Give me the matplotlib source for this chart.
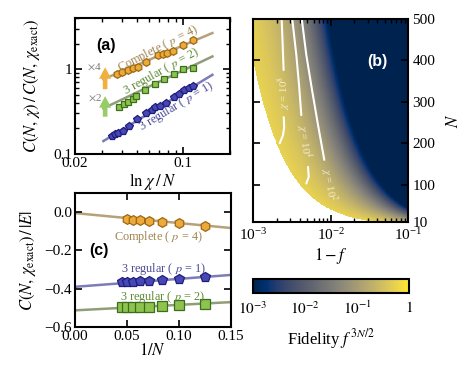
import numpy as np
import matplotlib
matplotlib.use("Agg")
import matplotlib.pyplot as plt
from matplotlib.colors import LogNorm
from matplotlib.ticker import FixedLocator, LogLocator, NullFormatter, FixedFormatter

plt.rcParams['font.family'] = ['Liberation Serif', 'DejaVu Serif']
plt.rcParams['mathtext.fontset'] = 'stix'
plt.rcParams['xtick.direction'] = 'in'
plt.rcParams['ytick.direction'] = 'in'
plt.rcParams['xtick.top'] = True
plt.rcParams['ytick.right'] = True
plt.rcParams['axes.linewidth'] = 1.5
plt.rcParams['xtick.major.width'] = 1.2
plt.rcParams['ytick.major.width'] = 1.2
plt.rcParams['xtick.minor.width'] = 1.0
plt.rcParams['ytick.minor.width'] = 1.0
plt.rcParams['xtick.major.size'] = 5
plt.rcParams['ytick.major.size'] = 5
plt.rcParams['xtick.minor.size'] = 3
plt.rcParams['ytick.minor.size'] = 3

# ---------------- data: panel (a) ----------------
complete_x = [0.0375, 0.0405, 0.0440, 0.0475, 0.0510, 0.0575, 0.0690, 0.0740, 0.0790, 0.0860, 0.1000, 0.1160]
complete_y = [0.88, 0.92, 0.98, 1.02, 1.07, 1.20, 1.47, 1.52, 1.56, 1.62, 1.90, 2.20]
reg2_x = [0.0382, 0.0415, 0.0440, 0.0470, 0.0498, 0.0569, 0.0660, 0.0749, 0.0870, 0.0995, 0.1160]
reg2_y = [0.356, 0.385, 0.407, 0.445, 0.484, 0.570, 0.672, 0.769, 0.881, 1.00, 1.03]
reg1_x = [0.0346, 0.0360, 0.0377, 0.0408, 0.0444, 0.0503, 0.0575, 0.0630, 0.0660, 0.0712, 0.0768, 0.0870, 0.0935, 0.1010, 0.1080, 0.1160]
reg1_y = [0.163, 0.170, 0.175, 0.189, 0.214, 0.257, 0.302, 0.330, 0.356, 0.369, 0.396, 0.475, 0.510, 0.560, 0.600, 0.636]
fit_a_x = [0.0305, 0.154]
fit_a_complete = [0.762, 2.66]
fit_a_reg2 = [0.345, 1.41]
fit_a_reg1 = [0.142, 0.857]
arrow_x = 0.0313
arrow4_y = [0.58, 1.05]
arrow2_y = [0.275, 0.48]

# ---------------- data: panel (c) ----------------
c_complete_x = [0.0500, 0.0556, 0.0625, 0.0714, 0.0833, 0.1000, 0.1250]
c_complete_y = [-0.036, -0.039, -0.042, -0.046, -0.051, -0.058, -0.070]
c_reg_x = [0.0455, 0.0500, 0.0556, 0.0625, 0.0714, 0.0833, 0.1000, 0.1250]
c_reg1_y = [-0.367, -0.365, -0.363, -0.361, -0.358, -0.356, -0.347, -0.339]
c_reg2_y = [-0.498, -0.497, -0.496, -0.495, -0.494, -0.489, -0.484, -0.479]
fit_c_x = [0.0, 0.15]
fit_c_complete = [-0.005, -0.083]
fit_c_reg1 = [-0.390, -0.328]
fit_c_reg2 = [-0.513, -0.470]

# ---------------- data: panel (b) ----------------
one_minus_f_range = [1e-3, 1e-1]
N_range = [10, 500]
white_threshold = 0.55
chi8_up_x = [2.32e-3, 2.38e-3, 2.46e-3];          chi8_up_N = [500, 449, 377]
chi8_lo_x = [2.47e-3, 2.50e-3, 2.42e-3, 2.19e-3]; chi8_lo_N = [263, 239, 220, 200]
chi4_up_x = [3.18e-3, 3.59e-3, 3.89e-3, 4.16e-3]; chi4_up_N = [500, 413, 341, 268]
chi4_lo_x = [5.08e-3, 5.19e-3, 4.83e-3];          chi4_lo_N = [143, 119, 103]
chi2_up_x = [4.22e-3, 4.83e-3, 5.72e-3, 6.84e-3, 8.24e-3]; chi2_up_N = [500, 413, 329, 244, 160]
chi_labels = [r'$\chi$ = 10$^8$', r'$\chi$ = 10$^4$', r'$\chi$ = 10$^2$']
chi_label_pos = [(2.53e-3, 321), (4.45e-3, 205), (9.3e-3, 100)]
chi_label_rot = [90, -83, -80]

cbar_ticks = [1e-3, 1e-2, 1e-1, 1]
cbar_ticklabels = [r'$10^{-3}$', r'$10^{-2}$', r'$10^{-1}$', r'$1$']

# colors
orange_face, orange_edge, orange_line, orange_text = '#EDAA3A', '#9C6812', '#B7A07A', '#A08552'
green_face, green_edge, green_line, green_text = '#8DC34E', '#3C6E1E', '#8F9E78', '#5E8A34'
blue_face, blue_edge, blue_line, blue_text = '#4747B5', '#1E1E7A', '#7C7CB8', '#4B4B98'
orange_arrow, green_arrow = '#F0B040', '#98CC66'

TICK_FS = 11
LABEL_FS = 12
SERIES_FS = 8.8

fig = plt.figure(figsize=(4.74, 3.79), dpi=100)

# ---------------- panel (a) ----------------
axa = fig.add_axes([0.1582, 0.5937, 0.3270, 0.3588])
axa.set_xscale('log'); axa.set_yscale('log')
axa.plot(fit_a_x, fit_a_complete, color=orange_line, lw=1.8, zorder=1)
axa.plot(fit_a_x, fit_a_reg2, color=green_line, lw=1.8, zorder=1)
axa.plot(fit_a_x, fit_a_reg1, color=blue_line, lw=1.8, zorder=1)
axa.plot(complete_x, complete_y, 'h', ms=5.5, mfc=orange_face, mec=orange_edge, mew=0.9, zorder=3)
axa.plot(reg2_x, reg2_y, 's', ms=5, mfc=green_face, mec=green_edge, mew=0.9, zorder=3)
axa.plot(reg1_x, reg1_y, 'p', ms=5.5, mfc=blue_face, mec=blue_edge, mew=0.9, zorder=3)
arrow_style = "simple,head_width=0.8,head_length=0.75,tail_width=0.3"
axa.annotate('', xy=(arrow_x, arrow4_y[1]), xytext=(arrow_x, arrow4_y[0]),
             arrowprops=dict(arrowstyle=arrow_style, color=orange_arrow, mutation_scale=11, lw=0, shrinkA=0, shrinkB=0), zorder=2)
axa.annotate('', xy=(arrow_x, arrow2_y[1]), xytext=(arrow_x, arrow2_y[0]),
             arrowprops=dict(arrowstyle=arrow_style, color=green_arrow, mutation_scale=11, lw=0, shrinkA=0, shrinkB=0), zorder=2)
axa.text(0.0268, 1.08, r'$\times$4', color='#777777', fontsize=8, ha='center', va='center')
axa.text(0.0268, 0.455, r'$\times$2', color='#777777', fontsize=8, ha='center', va='center')
axa.text(0.0690, 1.74, r'Complete ( $p$ = 4)', color=orange_text, fontsize=SERIES_FS, rotation=27, ha='center', va='center')
axa.text(0.0720, 0.93, r'3 regular ( $p$ = 2)', color=green_text, fontsize=SERIES_FS, rotation=29, ha='center', va='center')
axa.text(0.0900, 0.36, r'3 regular ( $p$ = 1)', color=blue_text, fontsize=SERIES_FS, rotation=31, ha='center', va='center')
axa.text(0.14, 0.80, '(a)', transform=axa.transAxes, fontsize=11.5, fontweight='bold',
         family=['Liberation Sans', 'DejaVu Sans'], ha='left', va='center')
axa.set_xlim(0.02, 0.2)
axa.set_ylim(0.1, 4)
axa.xaxis.set_major_locator(FixedLocator([0.02, 0.1]))
axa.xaxis.set_major_formatter(FixedFormatter(['0.02', '0.1']))
axa.xaxis.set_minor_locator(LogLocator(base=10, subs=np.arange(2, 10)))
axa.xaxis.set_minor_formatter(NullFormatter())
axa.yaxis.set_major_locator(FixedLocator([0.1, 1]))
axa.yaxis.set_major_formatter(FixedFormatter(['0.1', '1']))
axa.yaxis.set_minor_locator(LogLocator(base=10, subs=np.arange(2, 10)))
axa.yaxis.set_minor_formatter(NullFormatter())
axa.tick_params(labelsize=TICK_FS, pad=2)
axa.set_xlabel(r'$\ln\,\chi\,/\,N$', fontsize=LABEL_FS, labelpad=1)
axa.set_ylabel(r'$C(N,\,\chi)\,/\,C(N,\,\chi_{\mathrm{exact}})$', fontsize=LABEL_FS, labelpad=8)

# ---------------- panel (c) ----------------
axc = fig.add_axes([0.1582, 0.1372, 0.3291, 0.3536])
axc.plot(fit_c_x, fit_c_complete, color=orange_line, lw=1.8, zorder=1)
axc.plot(fit_c_x, fit_c_reg1, color=blue_line, lw=1.8, zorder=1)
axc.plot(fit_c_x, fit_c_reg2, color=green_line, lw=1.8, zorder=1)
axc.plot(c_complete_x, c_complete_y, 'h', ms=7, mfc=orange_face, mec=orange_edge, mew=0.9, zorder=3)
axc.plot(c_reg_x, c_reg1_y, 'p', ms=7, mfc=blue_face, mec=blue_edge, mew=0.9, zorder=3)
axc.plot(c_reg_x, c_reg2_y, 's', ms=6.5, mfc=green_face, mec=green_edge, mew=0.9, zorder=3)
axc.text(0.0800, -0.128, r'Complete ( $p$ = 4)', color=orange_text, fontsize=SERIES_FS, ha='center', va='center')
axc.text(0.0846, -0.295, r'3 regular ( $p$ = 1)', color=blue_text, fontsize=SERIES_FS, ha='center', va='center')
axc.text(0.0837, -0.441, r'3 regular ( $p$ = 2)', color=green_text, fontsize=SERIES_FS, ha='center', va='center')
axc.text(0.09, 0.57, '(c)', transform=axc.transAxes, fontsize=11.5, fontweight='bold',
         family=['Liberation Sans', 'DejaVu Sans'], ha='left', va='center')
axc.set_xlim(0, 0.15)
axc.set_ylim(-0.6, 0.1)
axc.set_xticks([0.0, 0.05, 0.10, 0.15])
axc.set_xticklabels(['0.00', '0.05', '0.10', '0.15'])
axc.set_yticks([0.0, -0.2, -0.4, -0.6])
axc.set_yticklabels(['0.0', '\u22120.2', '\u22120.4', '\u22120.6'])
axc.tick_params(labelsize=TICK_FS, pad=2)
axc.set_xlabel(r'$1/N$', fontsize=LABEL_FS, labelpad=0)
axc.set_ylabel(r'$C(N,\,\chi_{\mathrm{exact}})\,/\,|E|$', fontsize=LABEL_FS, labelpad=5)

# ---------------- panel (b) ----------------
axb = fig.add_axes([0.5344, 0.4142, 0.3270, 0.5356])
axb.set_facecolor('white')
xg = np.logspace(np.log10(one_minus_f_range[0]), np.log10(one_minus_f_range[1]), 500)
Ng = np.linspace(N_range[0], N_range[1], 500)
X, NN = np.meshgrid(xg, Ng)
F = np.power(1.0 - X, 1.5 * NN)
F_shown = np.where(F > white_threshold, np.nan, F)
F_shown = np.ma.masked_invalid(F_shown)
cmap = plt.get_cmap('cividis').copy()
cmap.set_bad((1, 1, 1, 1))
norm = LogNorm(vmin=1e-3, vmax=1)
mesh = axb.pcolormesh(X, NN, F_shown, cmap=cmap, norm=norm, shading='auto', rasterized=True)
for xs, ns in [(chi8_up_x, chi8_up_N), (chi8_lo_x, chi8_lo_N), (chi4_up_x, chi4_up_N),
               (chi4_lo_x, chi4_lo_N), (chi2_up_x, chi2_up_N)]:
    axb.plot(xs, ns, color='white', lw=1.5, solid_capstyle='round')
for lab, (lx, ly), rot in zip(chi_labels, chi_label_pos, chi_label_rot):
    axb.text(lx, ly, lab, color='#F4F0D8', fontsize=7.8, rotation=rot, ha='center', va='center')
axb.text(0.80, 0.79, '(b)', transform=axb.transAxes, fontsize=11.5, fontweight='bold', color='white',
         family=['Liberation Sans', 'DejaVu Sans'], ha='center', va='center')
axb.set_xscale('log')
axb.set_xlim(one_minus_f_range)
axb.set_ylim(N_range)
axb.set_yticks([10, 100, 200, 300, 400, 500])
axb.set_yticklabels(['10', '100', '200', '300', '400', '500'])
axb.yaxis.tick_right()
axb.yaxis.set_ticks_position('both')
axb.yaxis.set_label_position('right')
axb.tick_params(axis='y', labelleft=False, labelright=True)
axb.xaxis.set_minor_locator(LogLocator(base=10, subs=np.arange(2, 10)))
axb.xaxis.set_minor_formatter(NullFormatter())
axb.tick_params(labelsize=TICK_FS, pad=2)
axb.tick_params(axis='y', pad=3)
axb.tick_params(axis='x', pad=4)
axb.set_xlabel(r'$1-f$', fontsize=LABEL_FS, labelpad=2)
axb.set_ylabel(r'$N$', fontsize=LABEL_FS, labelpad=8)

# colorbar
cax = fig.add_axes([0.5338, 0.2269, 0.3291, 0.0369])
cb = fig.colorbar(mesh, cax=cax, orientation='horizontal')
cb.set_ticks(cbar_ticks)
cb.set_ticklabels(cbar_ticklabels)
cb.ax.minorticks_off()
cb.ax.tick_params(length=0, labelsize=TICK_FS, pad=5)
cb.outline.set_linewidth(1.5)
cb.set_label(r'Fidelity $f^{\,3N/2}$', fontsize=LABEL_FS, labelpad=7)

fig.savefig('out.png', dpi=100)
